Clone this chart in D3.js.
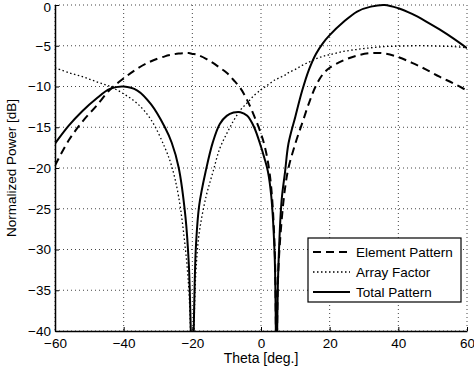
<!DOCTYPE html>
<html>
<head>
<meta charset="utf-8">
<script src="https://cdn.jsdelivr.net/npm/d3@7"></script>
<style>
  html, body { margin: 0; padding: 0; background: #fff; }
  svg text { font-family: "Liberation Sans", Arial, Helvetica, sans-serif; }
</style>
</head>
<body>
<svg id="chart" width="474" height="391"></svg>
<script>
// ---- data ----
const theta = [-60,-56,-52,-48,-44,-40,-36,-32,-28,-26,-24,-22,-21,-20,-19,-18,-16,-14,-12,-10,-8,-6,-4,-2,0,1,2,3,4,4.5,5,6,7,8,10,12,14,16,18,20,24,28,32,36,40,44,48,52,56,60];
const elementPattern = [-19.7,-16.6,-14.3,-12.4,-10.4,-9.0,-7.8,-6.9,-6.3,-6.1,-5.95,-5.9,-5.9,-6.0,-6.05,-6.2,-6.6,-7.1,-7.7,-8.3,-9.2,-10.2,-11.7,-13.6,-15.8,-17.2,-19.2,-22.5,-30,-45,-33,-26.5,-22.5,-20,-17.0,-14.5,-12.0,-9.9,-8.5,-7.7,-6.8,-6.2,-5.9,-5.95,-6.4,-7.1,-7.9,-8.8,-9.6,-10.5];
const arrayFactor = [-7.7,-8.3,-8.8,-9.4,-10.0,-10.9,-12.1,-14.1,-17.5,-19.8,-23.5,-30,-35,-45,-33,-28,-23.5,-20.5,-17.6,-15.8,-14.2,-12.9,-12.0,-11.1,-10.4,-10.1,-9.8,-9.5,-9.2,-9.1,-9.0,-8.8,-8.6,-8.3,-7.9,-7.4,-7.0,-6.6,-6.3,-6.1,-5.7,-5.45,-5.25,-5.1,-5.05,-5.0,-5.0,-5.05,-5.1,-5.25];
const totalPattern = [-17.0,-14.8,-13.0,-11.5,-10.3,-10.0,-10.5,-12.2,-15.0,-16.9,-19.9,-26,-32,-45,-30,-24.6,-20.2,-16.8,-14.6,-13.6,-13.2,-13.15,-13.6,-15.0,-17.4,-18.8,-20.4,-23.5,-31,-45,-33,-24,-20.5,-17.0,-13.7,-10.5,-7.9,-6.0,-4.7,-3.7,-2.1,-0.8,-0.2,0,-0.4,-1.1,-2.0,-3.0,-4.1,-5.3];
const xTicks = [-60,-40,-20,0,20,40,60];
const yTicks = [0,-5,-10,-15,-20,-25,-30,-35,-40];
const seriesNames = ["Element Pattern","Array Factor","Total Pattern"];
const xLabel = "Theta [deg.]";
const yLabel = "Normalized Power [dB]";

// ---- layout ----
const svg = d3.select("#chart");
const L = 55, R = 467, T = 5, B = 331;
const x = d3.scaleLinear().domain([-60, 60]).range([L, R]);
const y = d3.scaleLinear().domain([-40, 0]).range([B, T]);
const fmt = v => (v < 0 ? "\u2212" + Math.abs(v) : String(v));

// grid
const grid = svg.append("g");
grid.selectAll(".gx").data(xTicks).enter().append("line")
  .attr("x1", d => x(d)).attr("x2", d => x(d)).attr("y1", T).attr("y2", B)
  .attr("stroke", "#444").attr("stroke-width", 1).attr("stroke-dasharray", "1,3");
grid.selectAll(".gy").data(yTicks).enter().append("line")
  .attr("y1", d => y(d)).attr("y2", d => y(d)).attr("x1", L).attr("x2", R)
  .attr("stroke", "#444").attr("stroke-width", 1).attr("stroke-dasharray", "1,3");

// clip
svg.append("clipPath").attr("id", "clip").append("rect")
  .attr("x", L).attr("y", T - 2).attr("width", R - L).attr("height", B - T + 2);

const line = d3.line().x((d, i) => x(theta[i])).y(d => y(d)).curve(d3.curveCatmullRom.alpha(0.5));
const plot = svg.append("g").attr("clip-path", "url(#clip)");
const styles = [
  { data: elementPattern, dash: "8,5", w: 2 },
  { data: arrayFactor, dash: "1.5,2.5", w: 1.3 },
  { data: totalPattern, dash: null, w: 2 }
];
styles.forEach(s => {
  plot.append("path").attr("d", line(s.data)).attr("fill", "none")
    .attr("stroke", "#000").attr("stroke-width", s.w)
    .attr("stroke-dasharray", s.dash);
});

// axes
const xAxis = d3.axisBottom(x).tickValues(xTicks).tickFormat(fmt).tickSizeInner(-4).tickSizeOuter(0).tickPadding(7);
const yAxis = d3.axisLeft(y).tickValues(yTicks).tickFormat(fmt).tickSizeInner(-4).tickSizeOuter(0).tickPadding(4);
const gx = svg.append("g").attr("transform", `translate(0,${B})`).call(xAxis);
const gy = svg.append("g").attr("transform", `translate(${L},0)`).call(yAxis);
[gx, gy].forEach(g => {
  g.select(".domain").attr("stroke", "#000").attr("stroke-width", 1.5);
  g.selectAll(".tick line").attr("stroke", "#000");
  g.selectAll(".tick text").attr("font-size", 13.5).attr("fill", "#000")
    .attr("font-family", "Liberation Sans, Arial, sans-serif");
});
// keep the top "0" label inside the picture
gy.selectAll(".tick text").filter(d => d === 0).attr("dy", "0.45em");

// axis labels
svg.append("text").attr("x", (L + R) / 2).attr("y", 363).attr("text-anchor", "middle")
  .attr("font-size", 14).attr("fill", "#000").text(xLabel);
svg.append("text").attr("transform", `translate(16,${(T + B) / 2}) rotate(-90)`)
  .attr("text-anchor", "middle").attr("font-size", 13.5).attr("fill", "#000").text(yLabel);

// legend
const lg = svg.append("g");
lg.append("rect").attr("x", 308).attr("y", 238).attr("width", 153).attr("height", 64)
  .attr("fill", "#fff").attr("stroke", "#000").attr("stroke-width", 1.2);
seriesNames.forEach((n, i) => {
  const yy = 252 + i * 20;
  lg.append("line").attr("x1", 313).attr("x2", 350).attr("y1", yy).attr("y2", yy)
    .attr("stroke", "#000").attr("stroke-width", styles[i].w)
    .attr("stroke-dasharray", styles[i].dash);
  lg.append("text").attr("x", 356).attr("y", yy + 5).attr("font-size", 13.5)
    .attr("fill", "#000").text(n);
});
</script>
</body>
</html>
